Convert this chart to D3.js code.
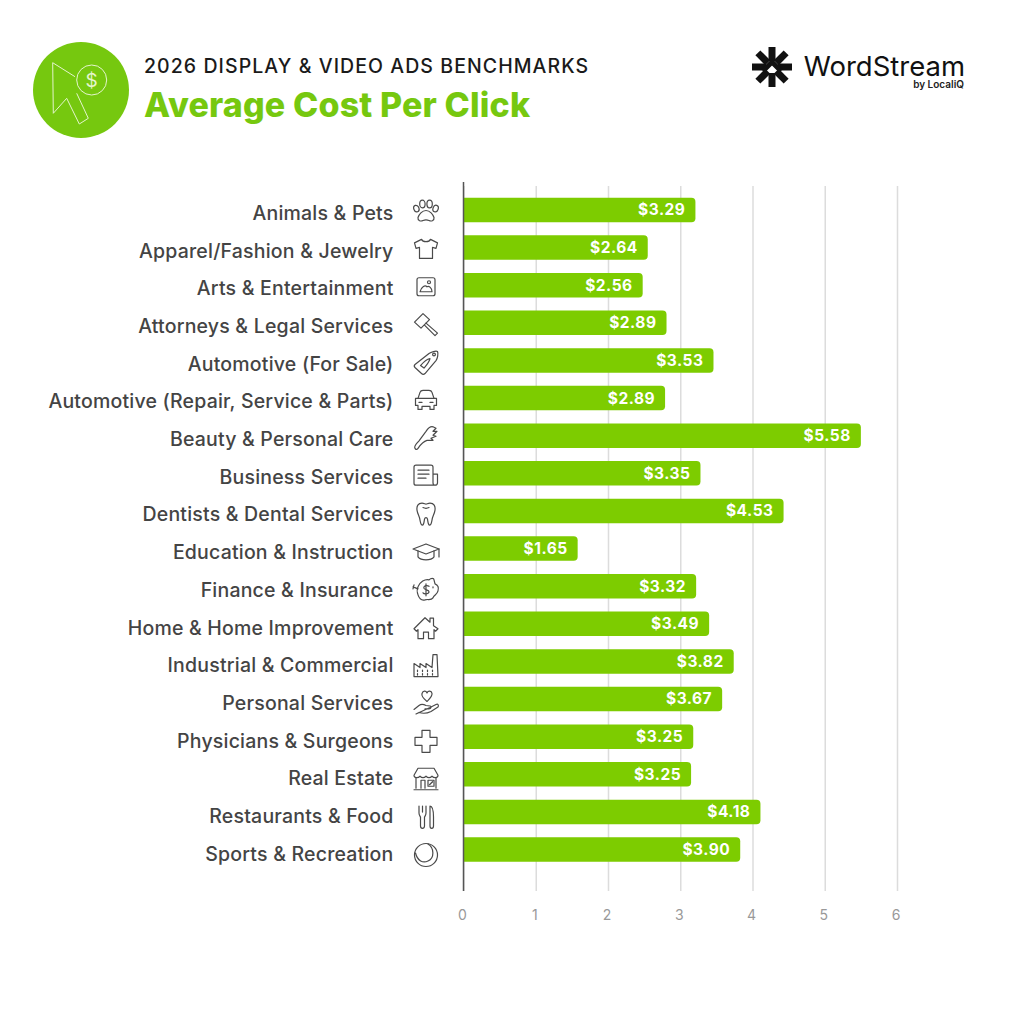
<!DOCTYPE html>
<html>
<head>
<meta charset="utf-8">
<script src="https://cdn.jsdelivr.net/npm/d3@7"></script>
<style>
  html, body { margin: 0; background: #fff; }
  text { font-family: Inter, sans-serif; }
</style>
</head>
<body>
<div id="chart"></div>
<script>
const width = 1022;
const height = 1024;
const green = "#7dcc00";
const iconColor = "#4a4a4a";

const categories = [
  "Animals & Pets", "Apparel/Fashion & Jewelry", "Arts & Entertainment",
  "Attorneys & Legal Services", "Automotive (For Sale)",
  "Automotive (Repair, Service & Parts)", "Beauty & Personal Care",
  "Business Services", "Dentists & Dental Services", "Education & Instruction",
  "Finance & Insurance", "Home & Home Improvement", "Industrial & Commercial",
  "Personal Services", "Physicians & Surgeons", "Real Estate",
  "Restaurants & Food", "Sports & Recreation"
];
// printed on the bars
const costs = [3.29, 2.64, 2.56, 2.89, 3.53, 2.89, 5.58, 3.35, 4.53, 1.65, 3.32, 3.49, 3.82, 3.67, 3.25, 3.25, 4.18, 3.90];
// the drawn bars stop a little short of the printed value, so read their length against the axis
const barLengths = [3.21, 2.55, 2.48, 2.81, 3.46, 2.79, 5.50, 3.28, 4.43, 1.58, 3.22, 3.40, 3.74, 3.58, 3.18, 3.15, 4.11, 3.83];
const axisTicks = [0, 1, 2, 3, 4, 5, 6];

// line icons, one per category, drawn around 0,0
const icons = [
  '<ellipse cx="-9.6" cy="-2.4" rx="2.6" ry="3.4" transform="rotate(-20 -9.6 -2.4)"/><ellipse cx="-3.6" cy="-7" rx="2.7" ry="3.9"/><ellipse cx="3.6" cy="-7" rx="2.7" ry="3.9"/><ellipse cx="9.6" cy="-2.4" rx="2.6" ry="3.4" transform="rotate(20 9.6 -2.4)"/><path d="M0 -.5C-4 -.5-7 3.5-8 6.5C-8.5 10-5 10.5-3 9.5C-1 8.8 1 8.8 3 9.5C5 10.5 8.5 10 8 6.5C7 3.5 4-.5 0-.5Z"/>',
  '<path d="M-4.5-9.5C-3-6.5 3-6.5 4.5-9.5L11.5-6L10-.5L6.5-1.5L6.5 9.5L-6.5 9.5L-6.5-1.5L-10-.5L-11.5-6Z"/>',
  '<rect x="-9" y="-9" width="18" height="18" rx="2"/><path d="M-6 5C-5 0-1-2 1 0C3-1 6 1 6 5Z"/><circle cx="3" cy="-4.5" r="1.5"/>',
  '<path d="M-3-11L3.5-5L-5 3.5L-11.5-2.5Z"/><path d="M0-1.5L11.5 8.5L9 11L-1.5 .5"/>',
  '<path d="M-11 2L3-9C5-10.5 10-12 11.5-11C12.5-9 11.5-4 10-2L-1 11C-2 12-3.5 12-4.5 11L-11 5C-12 4-12 3-11 2Z"/><path d="M-5.5 3C-2-1 0-3 4-4C3 0 1 2-2 5.5Z"/><circle cx="8" cy="-8" r="1.4"/>',
  '<path d="M-8-2L-6-8C-5.5-9.5-4-10-3-10L3-10C4-10 5.5-9.5 6-8L8-2L10.5-2L10.5 5L8 5L8 9L4 9L4 6L-4 6L-4 9L-8 9L-8 5L-10.5 5L-10.5-2Z"/><path d="M-8-2L8-2M-7 2L-4 2M4 2L7 2"/>',
  '<path d="M-11 10C-12.500 8-9.500 5.500-7 2.500L0-7C2-10 5-12 7-11.500L10-10L7-7L11-7L7-3L10-2L5 0L7 2L1 2C-3 3-6 7-8 10C-9 11.500-10.500 11.500-11 10Z"/>',
  '<path d="M7-2L7-9Q7-11 5-11L-10-11Q-12-11-12-9L-12 7Q-12 9-10 9L9 9Q11.5 9 11.5 6.500L11.500-2L7-2L7 6.500Q7 9 9 9"/><path d="M-8-6L3-6M-8-2L3-2M-8 2L0 2"/>',
  '<path d="M-4-11C-8-11-9.500-8-9-4C-8.500 0-6.500 2-6 6C-5.500 9-4.500 11-3.500 11C-2 11-2 8-1.500 5C-1 3 1 3 1.500 5C2 8 2 11 3.500 11C4.500 11 5.500 9 6 6C6.500 2 8.500 0 9-4C9.500-8 8-11 4-11C2-11 1-10 0-10C-1-10-2-11-4-11Z"/><path d="M-3-6.500C-1-5.500 1-5.500 3-6.500"/>',
  '<path d="M0-8L13-3L0 2L-13-3Z"/><path d="M-8-1L-8 5C-5 9 5 9 8 5L8-1"/><path d="M13-3L13 5"/>',
  '<path d="M-8-3C-6-8-1-11 3-10C5-12 8-12 8-10L9-6C12-5 13-2 12 1C11 5 8 5 7 8C5 11 2 9-1 10C-5 11-7 8-8 5C-9 3-9-1-8-3Z"/><path d="M-8-1L-13-3M-12-5L-13-1"/><path d="M0-6L0 6M3-3.500C1-5-3-4-2-1.500C-1 .500 3-.500 3 2C3 4.500-2 4.500-3 3M7-3L7-2"/>',
  '<path d="M-12 1L-1-10L4-5.500L4-9.500L7.500-9.500L7.500-2L12 1L9.500 3.500L8 2L8 11L2.500 11L2.500 4.500L-2.500 4.500L-2.500 11L-8 11L-8 2L-9.500 3.500Z"/>',
  '<path d="M-12 11L-12-2L-6 2L-6-2L0 2L0-2L6 2L7-11L11-11L12 11Z"/><path d="M-8.500 4.500L-8.500 6M-3.500 4.500L-3.500 6M1.500 4.500L1.500 6M6.500 4.500L6.500 6M-8.500 8L-8.500 9.500M-3.500 8L-3.500 9.500M1.500 8L1.500 9.500M6.500 8L6.500 9.500"/>',
  '<path d="M1-2C-2-4.500-5-7-4-10C-3-13 0-13 1-10.500C2-13 5.500-13 6-10C6.500-7 3.500-4.500 1-2Z"/><path d="M-12 6L-7 2C-5 .500-2 1 0 2L4 2.500C6 3 5 5.500 3 5.500L-1 5.500M4 4L10 1C12 0 13 2 12 3.500L5 8C1 10-4 10-7 9L-10 10.500Z"/>',
  '<path d="M-4-11L4-11L4-4L11-4L11 4L4 4L4 11L-4 11L-4 4L-11 4L-11-4L-4-4Z"/>',
  '<path d="M-8-11L8-11L12-4C12-1 8-1 6-3C4-1 2-1 0-3C-2-1-4-1-6-3C-8-1-12-1-12-4Z"/><path d="M-10-1L-10 9M10-1L10 9M-12 10.500L12 10.500M-5 9L-5 1L-1 1L-1 9"/><rect x="2" y="1" width="6" height="6"/><path d="M3.500 5.500L6.500 2.500"/>',
  '<path d="M-7-11L-7-4C-7-2-6-1-5.500 0L-5.500 9C-5.500 12-1.500 12-1.500 9L-1.500 0C-1-1 0-2 0-4L0-11M-3.500-11L-3.500-5"/><path d="M4-11C7-11 7.500-5 7.500 0L7.500 9C7.500 12 4 12 4 9Z"/>',
  '<circle cx="0" cy="0" r="11.500"/><path d="M2-11C8.500-7 8.500 3 2 6C-3 8.500-8.500 6-10.500-2"/>'
];

const svg = d3
  .select("#chart")
  .append("svg")
  .attr("width", width)
  .attr("height", height)
  .style("display", "block");

const scale_X = d3.scaleLinear().domain([0, 6]).range([463.5, 897]);
const bar_Y = d3.scalePoint().domain(categories).range([210, 849.5]);
const label_Y = d3.scalePoint().domain(categories).range([213, 854]);
const icon_Y = d3.scalePoint().domain(categories).range([211, 855]);
const barHeight = 24.5;

// grid and tick labels
const axis_X = d3
  .axisBottom(scale_X)
  .tickValues(axisTicks)
  .tickSize(-705)
  .tickPadding(19)
  .tickFormat(d3.format("d"));

const axisGroup = svg
  .append("g")
  .attr("transform", "translate(0, 891)")
  .call(axis_X);
axisGroup.select(".domain").remove();
axisGroup.selectAll("line").attr("stroke", "#dcdcdc").attr("stroke-width", 1.5);
axisGroup
  .selectAll("text")
  .attr("fill", "#999")
  .style("font-size", "14px")
  .attr("dx", -1.5);

// bars: square at the axis, rounded at the end
svg
  .append("g")
  .selectAll("path")
  .data(categories)
  .enter()
  .append("path")
  .attr("fill", green)
  .attr("d", (d, i) => {
    const x0 = scale_X(0);
    const x1 = scale_X(barLengths[i]);
    const y0 = bar_Y(d) - barHeight / 2;
    const r = 4;
    return (
      "M" + x0 + "," + y0 +
      "H" + (x1 - r) +
      "Q" + x1 + "," + y0 + " " + x1 + "," + (y0 + r) +
      "V" + (y0 + barHeight - r) +
      "Q" + x1 + "," + (y0 + barHeight) + " " + (x1 - r) + "," + (y0 + barHeight) +
      "H" + x0 + "Z"
    );
  });

svg
  .append("line")
  .attr("x1", scale_X(0))
  .attr("x2", scale_X(0))
  .attr("y1", 182)
  .attr("y2", 891)
  .attr("stroke", "#555")
  .attr("stroke-width", 1.5);

svg
  .append("g")
  .selectAll("text")
  .data(categories)
  .enter()
  .append("text")
  .text((d, i) => "$" + costs[i].toFixed(2))
  .attr("x", (d, i) => scale_X(barLengths[i]) - 10)
  .attr("y", (d) => bar_Y(d))
  .attr("dy", "0.35em")
  .attr("text-anchor", "end")
  .attr("fill", "#fff")
  .style("font-size", "15.5px")
  .style("font-weight", 700)
  .style("letter-spacing", "0.5px");

svg
  .append("g")
  .selectAll("text")
  .data(categories)
  .enter()
  .append("text")
  .text((d) => d)
  .attr("x", 393.5)
  .attr("y", (d) => label_Y(d))
  .attr("dy", "0.35em")
  .attr("text-anchor", "end")
  .attr("fill", "#444")
  .style("font-size", "19.5px")
  .style("font-weight", 500)
  .style("letter-spacing", "0.2px");

svg
  .append("g")
  .selectAll("g")
  .data(categories)
  .enter()
  .append("g")
  .attr("transform", (d) => "translate(426, " + icon_Y(d) + ")")
  .attr("fill", "none")
  .attr("stroke", iconColor)
  .attr("stroke-width", 1.2)
  .attr("stroke-linejoin", "round")
  .attr("stroke-linecap", "round")
  .html((d, i) => icons[i]);

// header badge
const badge = svg.append("g").attr("transform", "translate(81, 90)");
badge.append("circle").attr("r", 48).attr("fill", "#76c80f");
badge
  .append("path")
  .attr("fill", "none")
  .attr("stroke", "#e4f5cc")
  .attr("stroke-width", 1)
  .attr("d", "M-6-13.300L-28.300-27.300L-27.700 23.300L-14.300 8.300L-1.700 34L7.300 28.300L-4.300 3.300");
badge
  .append("circle")
  .attr("cx", 10.7)
  .attr("cy", -10)
  .attr("r", 15)
  .attr("fill", "none")
  .attr("stroke", "#e4f5cc")
  .attr("stroke-width", 1);
badge
  .append("text")
  .text("$")
  .attr("x", 10.7)
  .attr("y", -3)
  .attr("text-anchor", "middle")
  .attr("fill", "#e4f5cc")
  .style("font-size", "19px")
  .style("font-weight", 400);

svg
  .append("text")
  .text("2026 DISPLAY & VIDEO ADS BENCHMARKS")
  .attr("x", 144)
  .attr("y", 73)
  .attr("fill", "#1a1a1a")
  .style("font-size", "19.5px")
  .style("font-weight", 500)
  .style("letter-spacing", "1.07px");

svg
  .append("text")
  .text("Average Cost Per Click")
  .attr("x", 144)
  .attr("y", 117)
  .attr("fill", "#76c80f")
  .style("font-size", "34px")
  .style("font-weight", 800)
  .style("letter-spacing", "0.15px");

// logo
const logo = svg.append("g").attr("transform", "translate(772, 67)");
logo
  .append("g")
  .attr("stroke", "#111")
  .attr("stroke-width", 7)
  .selectAll("line")
  .data(d3.range(8))
  .enter()
  .append("line")
  .attr("y1", -6)
  .attr("y2", -20)
  .attr("transform", (d) => "rotate(" + d * 45 + ")");
logo
  .append("path")
  .attr("fill", "none")
  .attr("stroke", "#111")
  .attr("stroke-width", 5)
  .attr("d", "M-9 4L0-5L9 4");

svg
  .append("text")
  .text("WordStream")
  .attr("x", 965)
  .attr("y", 76)
  .attr("text-anchor", "end")
  .attr("fill", "#111")
  .style("font-size", "27.5px")
  .style("font-weight", 400);

svg
  .append("text")
  .text("by LocaliQ")
  .attr("x", 964)
  .attr("y", 88)
  .attr("text-anchor", "end")
  .attr("fill", "#222")
  .style("font-size", "10px")
  .style("font-weight", 600);
</script>
</body>
</html>
